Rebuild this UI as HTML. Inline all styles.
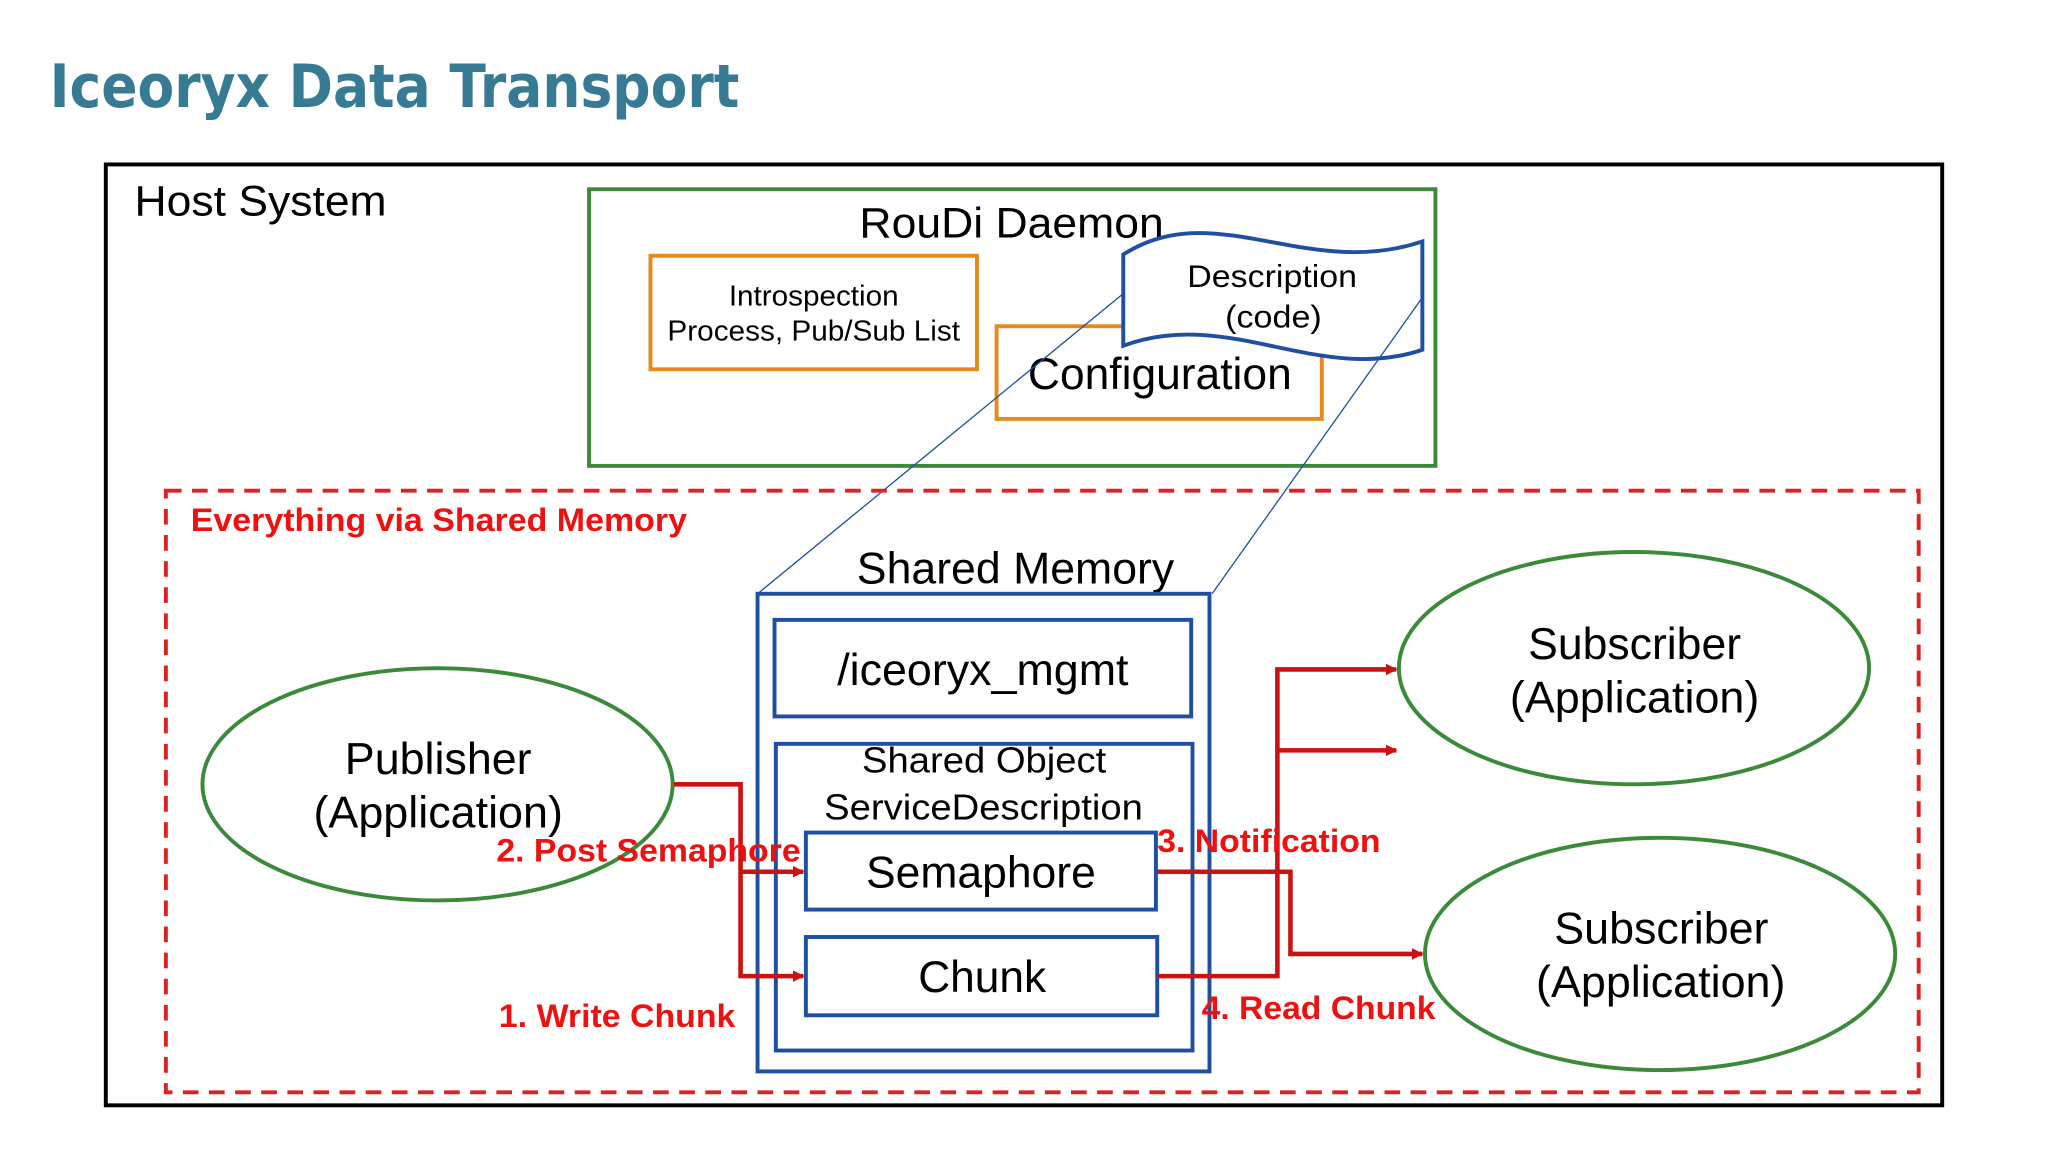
<!DOCTYPE html>
<html><head><meta charset="utf-8"><style>
html,body{margin:0;padding:0;background:#fff;}
svg{display:block;}
text{font-family:"Liberation Sans",sans-serif;}
</style></head><body>
<svg width="2048" height="1151" viewBox="0 0 1568 882" preserveAspectRatio="none" xmlns="http://www.w3.org/2000/svg">
<defs>
<marker id="a" markerWidth="9" markerHeight="9" refX="8" refY="4.5" orient="auto" markerUnits="userSpaceOnUse"><path d="M0,0 L9,4.5 L0,9 Z" fill="#cc1111"/></marker>
</defs>
<rect width="1568" height="882" fill="#fff"/>
<text x="38" y="82" font-size="46" fill="#367a93" font-weight="bold" style="font-family:'DejaVu Sans',sans-serif" textLength="528" lengthAdjust="spacingAndGlyphs">Iceoryx Data Transport</text>
<rect x="81" y="126" width="1406" height="721" fill="none" stroke="#000" stroke-width="3"/>
<text x="103" y="165" font-size="33" textLength="193" lengthAdjust="spacingAndGlyphs">Host System</text>
<rect x="451" y="145" width="648" height="212" fill="none" stroke="#3a8a3a" stroke-width="3"/>
<text x="658" y="182" font-size="33" textLength="233" lengthAdjust="spacingAndGlyphs">RouDi Daemon</text>
<rect x="498" y="196" width="250" height="87" fill="none" stroke="#e58a1f" stroke-width="3"/>
<text x="558" y="234" font-size="22" textLength="130" lengthAdjust="spacingAndGlyphs">Introspection</text>
<text x="511" y="261" font-size="22" textLength="224" lengthAdjust="spacingAndGlyphs">Process, Pub/Sub List</text>
<rect x="763" y="250" width="249" height="71" fill="none" stroke="#e58a1f" stroke-width="3"/>
<text x="787" y="298" font-size="34" textLength="202" lengthAdjust="spacingAndGlyphs">Configuration</text>
<path d="M860,195 C930,150 1000,215 1089,185 L1089,268 C1010,295 940,235 860,265 Z" fill="#fff" stroke="#1f4fa0" stroke-width="3"/>
<text x="909" y="220" font-size="24" textLength="130" lengthAdjust="spacingAndGlyphs">Description</text>
<text x="938" y="251" font-size="24" textLength="74" lengthAdjust="spacingAndGlyphs">(code)</text>
<line x1="860" y1="225" x2="580" y2="455" stroke="#1f4fa0" stroke-width="1"/>
<line x1="1089" y1="228" x2="928" y2="455" stroke="#1f4fa0" stroke-width="1"/>
<rect x="127" y="376" width="1342" height="461" fill="none" stroke="#dd2222" stroke-width="3" stroke-dasharray="12 8"/>
<text x="146" y="407" font-size="25" font-weight="bold" fill="#ee1111" textLength="380" lengthAdjust="spacingAndGlyphs">Everything via Shared Memory</text>
<text x="656" y="447" font-size="34" textLength="243" lengthAdjust="spacingAndGlyphs">Shared Memory</text>
<rect x="580" y="455" width="346" height="366" fill="none" stroke="#1f4fa0" stroke-width="3"/>
<rect x="593" y="475" width="319" height="74" fill="none" stroke="#1f4fa0" stroke-width="3"/>
<text x="641" y="525" font-size="34" textLength="223" lengthAdjust="spacingAndGlyphs">/iceoryx_mgmt</text>
<rect x="594" y="570" width="319" height="235" fill="none" stroke="#1f4fa0" stroke-width="3"/>
<text x="660" y="592" font-size="28" textLength="187" lengthAdjust="spacingAndGlyphs">Shared Object</text>
<text x="631" y="628" font-size="28" textLength="244" lengthAdjust="spacingAndGlyphs">ServiceDescription</text>
<rect x="617" y="638" width="268" height="59" fill="#fff" stroke="#1f4fa0" stroke-width="3"/>
<text x="663" y="680" font-size="34" textLength="176" lengthAdjust="spacingAndGlyphs">Semaphore</text>
<rect x="617" y="718" width="269" height="60" fill="#fff" stroke="#1f4fa0" stroke-width="3"/>
<text x="703" y="760" font-size="34" textLength="98" lengthAdjust="spacingAndGlyphs">Chunk</text>
<ellipse cx="335" cy="601" rx="180" ry="89" fill="none" stroke="#3a8a3a" stroke-width="3"/>
<text x="264" y="593" font-size="34" textLength="143" lengthAdjust="spacingAndGlyphs">Publisher</text>
<text x="240" y="634" font-size="34" textLength="191" lengthAdjust="spacingAndGlyphs">(Application)</text>
<ellipse cx="1251" cy="512" rx="180" ry="89" fill="none" stroke="#3a8a3a" stroke-width="3"/>
<text x="1170" y="505" font-size="34" textLength="163" lengthAdjust="spacingAndGlyphs">Subscriber</text>
<text x="1156" y="546" font-size="34" textLength="191" lengthAdjust="spacingAndGlyphs">(Application)</text>
<ellipse cx="1271" cy="731" rx="180" ry="89" fill="none" stroke="#3a8a3a" stroke-width="3"/>
<text x="1190" y="723" font-size="34" textLength="164" lengthAdjust="spacingAndGlyphs">Subscriber</text>
<text x="1176" y="764" font-size="34" textLength="191" lengthAdjust="spacingAndGlyphs">(Application)</text>
<g fill="none" stroke="#cc1111" stroke-width="3.5">
<polyline points="516,601 567,601 567,748 615,748" marker-end="url(#a)"/>
<line x1="567" y1="668" x2="615" y2="668" marker-end="url(#a)"/>
<polyline points="886,668 988,668 988,731 1089,731" marker-end="url(#a)"/>
<polyline points="886,748 978,748 978,513 1069,513" marker-end="url(#a)"/>
<line x1="978" y1="575" x2="1069" y2="575" marker-end="url(#a)"/>
</g>
<g font-size="25" font-weight="bold" fill="#ee1111">
<text x="380" y="660" textLength="233" lengthAdjust="spacingAndGlyphs">2. Post Semaphore</text>
<text x="382" y="787" textLength="181" lengthAdjust="spacingAndGlyphs">1. Write Chunk</text>
<text x="886" y="653" textLength="171" lengthAdjust="spacingAndGlyphs">3. Notification</text>
<text x="920" y="781" textLength="179" lengthAdjust="spacingAndGlyphs">4. Read Chunk</text>
</g>
</svg>
</body></html>
